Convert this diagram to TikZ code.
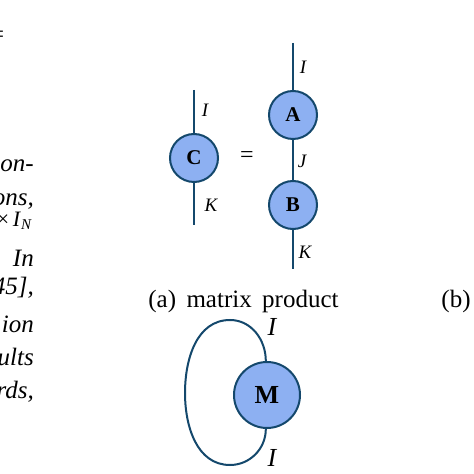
\documentclass[tikz,border=0pt]{standalone}
\usepackage{fontspec}
\setmainfont{Liberation Serif}
\definecolor{tnfill}{RGB}{141,176,242}
\definecolor{tnline}{RGB}{20,72,108}
\begin{document}
\begin{tikzpicture}[x=1pt,y=1pt,
  tensor/.style={circle,draw=tnline,fill=tnfill,line width=2pt,inner sep=0pt,font=\fontsize{21}{21}\selectfont\bfseries},
  bigtensor/.style={tensor,font=\fontsize{26}{26}\selectfont\bfseries},
  leg/.style={draw=tnline,line width=2pt},
  idx/.style={font=\fontsize{19}{19}\selectfont\itshape,inner sep=0pt},
  bigidx/.style={font=\fontsize{26}{26}\selectfont\itshape,inner sep=0pt},
  caption/.style={font=\fontsize{25}{25}\selectfont,inner sep=0pt,anchor=base},
  body/.style={font=\fontsize{25}{25}\selectfont\itshape,inner sep=0pt,anchor=base east}]
\useasboundingbox (0,0) rectangle (474,474);
% left column text (cut off)
\node[body] (t0) at (4.5,431.5) {\upshape =};
\node[body] (t1) at (34,302) {on-};
\node[body] (t2) at (34,268) {ons,};
\node[body,font=\fontsize{22}{22}\selectfont] (t3) at (32,247) {×\,\textit{I}\raisebox{-3pt}{\fontsize{15}{15}\selectfont\textit{N}}};
\node[body] (t4) at (34,207) {In};
\node[body] (t5) at (34,179) {45],};
\node[body] (t6) at (34,141) {ion};
\node[body] (t7) at (34,108) {ults};
\node[body] (t8) at (34,75) {rds,};
% (a) matrix product
\node[tensor,minimum size=48pt] (C) at (194,316) {C};
\coordinate (Ct) at (194,384);
\coordinate (Cb) at (194,249);
\draw[leg] (Ct) -- (C);
\draw[leg] (C) -- (Cb);
\node[idx] (CI) at (205,364) {I};
\node[idx] (CK) at (211,269) {K};
\node[font=\fontsize{24}{24}\selectfont,inner sep=0pt] (eq) at (247,317) {=};
\node[tensor,minimum size=48pt] (A) at (293,359) {A};
\node[tensor,minimum size=48pt] (B) at (293,269) {B};
\coordinate (At) at (293,431);
\coordinate (Bb) at (293,205);
\draw[leg] (At) -- (A);
\draw[leg] (A) -- (B);
\draw[leg] (B) -- (Bb);
\node[idx] (AI) at (303,407) {I};
\node[idx] (AJ) at (302,313) {J};
\node[idx] (BK) at (305,222) {K};
\node[caption] (capa) at (243.5,166) {(a)\, matrix\, product};
\node[caption] (capb) at (456,166) {(b)};
% trace
\node[bigtensor,minimum size=66pt] (M) at (267,79) {M};
\coordinate (Ltop) at (230,154);
\coordinate (Lleft) at (185,81);
\coordinate (Lbot) at (230,9);
\draw[leg] (M.92) to[out=90,in=0] (Ltop) to[out=180,in=90] (Lleft) to[out=-90,in=180] (Lbot) to[out=0,in=-90] (M.-92);
\node[bigidx] (MI1) at (272,147) {I};
\node[bigidx] (MI2) at (272,16) {I};
\end{tikzpicture}
\end{document}
